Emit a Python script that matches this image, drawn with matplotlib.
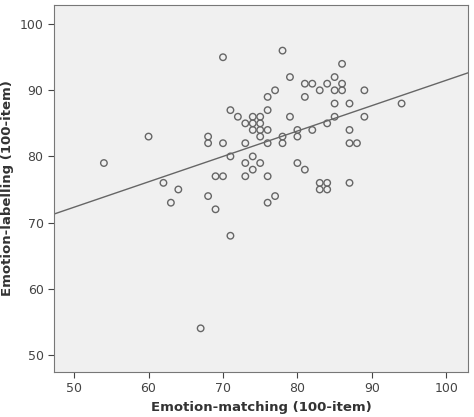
import matplotlib
matplotlib.use("Agg")
import matplotlib.pyplot as plt
import numpy as np

matching = [70, 78, 86, 79, 85, 81, 82, 84, 86, 77, 83, 85, 86, 89, 76, 81, 85, 87, 94,
            71, 76, 72, 74, 75, 79, 85, 89, 73, 74, 75, 84, 74, 75, 76, 80, 82, 87,
            75, 78, 80, 68, 68, 70, 73, 76, 78, 87, 88, 71, 74, 73, 75, 80, 74, 81,
            69, 70, 73, 76, 83, 84, 87, 83, 84, 64, 68, 77, 76, 69, 71,
            54, 60, 62, 63, 67]
labelling = [95, 96, 94, 92, 92, 91, 91, 91, 91, 90, 90, 90, 90, 90, 89, 89, 88, 88, 88,
             87, 87, 86, 86, 86, 86, 86, 86, 85, 85, 85, 85, 84, 84, 84, 84, 84, 84,
             83, 83, 83, 83, 82, 82, 82, 82, 82, 82, 82, 80, 80, 79, 79, 79, 78, 78,
             77, 77, 77, 77, 76, 76, 76, 75, 75, 75, 74, 74, 73, 72, 68,
             79, 83, 76, 73, 54]
x_ticks = [50, 60, 70, 80, 90, 100]
y_ticks = [50, 60, 70, 80, 90, 100]

fig = plt.figure(figsize=(4.74, 4.17), dpi=100)
fig.patch.set_facecolor("white")
ax = fig.add_axes([0.114, 0.108, 0.873, 0.880])
ax.set_facecolor("#f0f0f0")

ax.scatter(matching, labelling, s=22, facecolors="none", edgecolors="#666666", linewidths=1.0, zorder=3)

slope, intercept = np.polyfit(matching, labelling, 1)
xs = np.array([47.3, 102.9])
ax.plot(xs, intercept + slope * xs, color="#666666", linewidth=1.0, zorder=2)

ax.set_xlim(47.3, 102.9)
ax.set_ylim(47.4, 102.9)
ax.set_xticks(x_ticks)
ax.set_yticks(y_ticks)
ax.tick_params(colors="#444444", labelsize=9, length=4)
for s in ax.spines.values():
    s.set_color("#777777")
ax.set_xlabel("Emotion-matching (100-item)", fontsize=9.5, fontweight="bold", color="#333333")
ax.set_ylabel("Emotion-labelling (100-item)", fontsize=9.5, fontweight="bold", color="#333333")

fig.savefig("out.png", dpi=100)
